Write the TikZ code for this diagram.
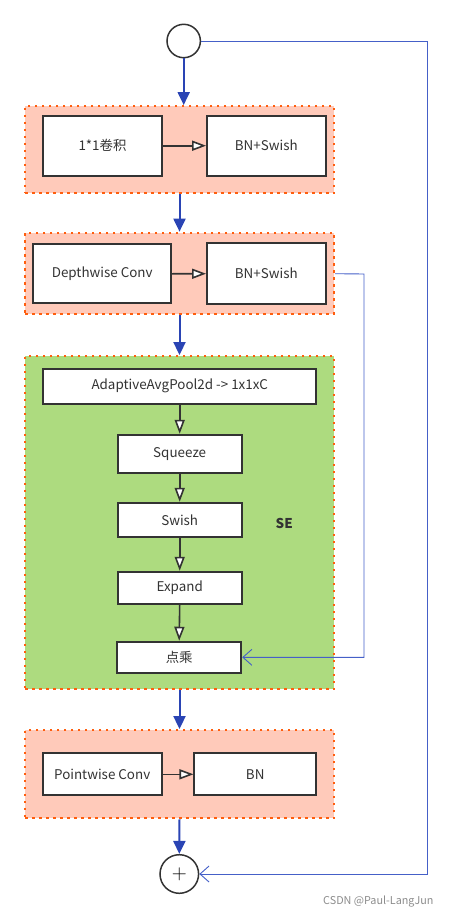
\documentclass[tikz,border=0pt]{standalone}
\usepackage{fontspec}
\newfontfamily\cjk{Noto Sans CJK SC}
\usetikzlibrary{arrows.meta}
\definecolor{salmon}{HTML}{FFCABA}
\definecolor{sgreen}{HTML}{ADDB7F}
\definecolor{dotor}{HTML}{FF5E0E}
\definecolor{boxln}{HTML}{333333}
\definecolor{flowbl}{HTML}{2A44B4}
\definecolor{thinbl}{HTML}{4560C8}
\tikzset{
  group/.style={draw=dotor, line width=2pt, dash pattern=on 2.6pt off 4.4pt, inner sep=0pt},
  procbox/.style={draw=boxln, fill=white, line width=1.8pt, inner sep=0pt, font=\cjk\fontsize{13.4}{15}\selectfont, text=boxln},
  ring/.style={draw=boxln, fill=white, circle, line width=1.5pt, inner sep=0pt},
  mainflow/.style={draw=flowbl, line width=2pt, -{Triangle[length=13pt,width=12pt]}},
  innerflow/.style={draw=boxln, line width=1.6pt, -{Triangle[open,fill=white,length=14pt,width=10pt]}},
  sideflow/.style={draw=thinbl, line width=0.9pt, -{Straight Barb[length=9pt,width=16pt]}},
}
\begin{document}
\begin{tikzpicture}[x=1pt,y=-1pt]
\useasboundingbox (0,0) rectangle (451,918);
% groups
\node[group, fill=salmon, minimum width=309pt, minimum height=87.3pt] (blk1) at (179.5,149.7) {};
\node[group, fill=salmon, minimum width=309pt, minimum height=81.3pt] (blk2) at (179.5,273.3) {};
\node[group, fill=sgreen, minimum width=309pt, minimum height=333.3pt] (blk3) at (179.5,522.7) {};
\node[group, fill=salmon, minimum width=309pt, minimum height=88.3pt] (blk4) at (179.5,774.2) {};
% circles
\node[ring, minimum size=33.4pt] (tc) at (183.7,41) {};
\node[ring, minimum size=38.6pt, font=\fontsize{20}{20}\selectfont] (plus) at (179.3,874) {$+$};
% boxes
\node[procbox, minimum width=118.4pt, minimum height=60pt] (b1a) at (102.5,145.7) {1*1卷积};
\node[procbox, minimum width=118.7pt, minimum height=60pt] (b1b) at (266.3,145.7) {BN+Swish};
\node[procbox, minimum width=137.7pt, minimum height=59pt] (b2a) at (102.2,273.8) {Depthwise Conv};
\node[procbox, minimum width=118.7pt, minimum height=60.7pt] (b2b) at (266.3,273.7) {BN+Swish};
\node[procbox, minimum width=272.7pt, minimum height=35pt] (pool) at (179.7,386.2) {AdaptiveAvgPool2d -> 1x1xC};
\node[procbox, minimum width=124pt, minimum height=38pt] (sq) at (179.7,453.7) {Squeeze};
\node[procbox, minimum width=124pt, minimum height=34.6pt] (sw) at (179.7,520) {Swish};
\node[procbox, minimum width=124pt, minimum height=32.3pt] (ex) at (179.7,587.8) {Expand};
\node[procbox, minimum width=124.3pt, minimum height=31.3pt] (dm) at (179.2,657.3) {点乘};
\node[procbox, minimum width=119pt, minimum height=42pt] (pc) at (102.2,774.3) {Pointwise Conv};
\node[procbox, minimum width=121.7pt, minimum height=42pt] (bn) at (255.2,774.3) {BN};
\node[font=\cjk\bfseries\fontsize{13.5}{15}\selectfont, text=boxln] (se) at (284.3,523.3) {SE};
\node[font=\cjk\fontsize{10.8}{12}\selectfont, text=black!45, anchor=east] (wm) at (437,901.5) {CSDN @Paul-LangJun};
% main flow
\draw[mainflow] (tc.south) -- (tc.south |- blk1.north);
\draw[mainflow] (blk1.south) -- (blk2.north);
\draw[mainflow] (blk2.south) -- (blk3.north);
\draw[mainflow] (blk3.south) -- (blk4.north);
\draw[mainflow] (blk4.south) -- (plus.north);
% inner flow
\draw[innerflow] (b1a.east) -- (b1b.west);
\draw[innerflow] (b2a.east) -- (b2b.west);
\draw[innerflow] (pc.east) -- (bn.west);
\draw[innerflow] (pool.south) -- (sq.north);
\draw[innerflow] (sq.south) -- (sw.north);
\draw[innerflow] (sw.south) -- (ex.north);
\draw[innerflow] (ex.south) -- (dm.north);
% side connections
\coordinate (k1) at (364,274);
\coordinate (r1) at (427,41);
\draw[sideflow] (b2b.east -| blk2.east) -- (k1) |- (dm.east);
\draw[sideflow] (tc.east) -- (r1) |- (plus.east);
\end{tikzpicture}
\end{document}
